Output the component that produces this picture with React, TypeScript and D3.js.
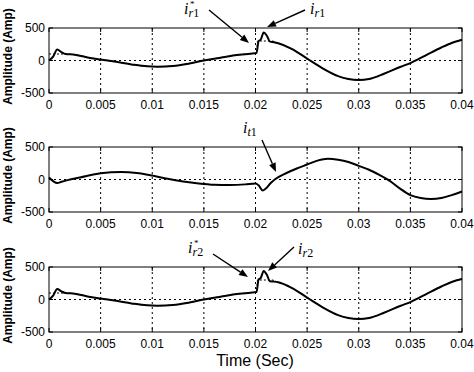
import React from "react";
import * as d3 from "d3";

// axis ticks
const timeTicks = [0, 0.005, 0.01, 0.015, 0.02, 0.025, 0.03, 0.035, 0.04];
const timeLabels = ["0", "0.005", "0.01", "0.015", "0.02", "0.025", "0.03", "0.035", "0.04"];
const ampTicks = [500, 0, -500];

// rotor current 1 (measured) and its reference
const r1Time = [0, 0.0004, 0.0008, 0.0012, 0.0016, 0.0025, 0.004, 0.005, 0.0065, 0.008, 0.0095, 0.0105, 0.012, 0.0135, 0.015, 0.0165, 0.018, 0.0195, 0.0201, 0.0203, 0.0205, 0.0208, 0.0211, 0.0214, 0.0218, 0.0222, 0.0235, 0.025, 0.0265, 0.028, 0.029, 0.03, 0.031, 0.0325, 0.034, 0.035, 0.0365, 0.038, 0.039, 0.04];
const iR1 = [0, 60, 170, 130, 100, 90, 40, 15, -20, -60, -90, -95, -85, -50, 0, 40, 80, 105, 115, 300, 320, 430, 380, 290, 280, 265, 180, 30, -120, -240, -285, -300, -285, -200, -100, -40, 80, 200, 270, 320];
const r1RefTime = [0, 0.0014, 0.0025, 0.004, 0.005, 0.0065, 0.008, 0.0095, 0.0105, 0.012, 0.0135, 0.015, 0.0165, 0.018, 0.0195, 0.0201, 0.0202, 0.0216, 0.0222, 0.0235, 0.025, 0.0265, 0.028, 0.029, 0.03, 0.031, 0.0325, 0.034, 0.035, 0.0365, 0.038, 0.039, 0.04];
const iR1Ref = [100, 100, 90, 40, 15, -20, -60, -90, -95, -85, -50, 0, 40, 80, 105, 115, 300, 300, 265, 180, 30, -120, -240, -285, -300, -285, -200, -100, -40, 80, 200, 270, 320];

// inverter current 1
const t1Time = [0, 0.0004, 0.0008, 0.0012, 0.0018, 0.003, 0.005, 0.007, 0.0085, 0.01, 0.0115, 0.013, 0.0145, 0.016, 0.0175, 0.019, 0.02, 0.0203, 0.0207, 0.021, 0.0215, 0.022, 0.023, 0.024, 0.025, 0.026, 0.027, 0.028, 0.029, 0.03, 0.031, 0.032, 0.033, 0.034, 0.035, 0.036, 0.037, 0.038, 0.039, 0.04];
const iT1 = [30, -25, -55, -35, -10, 30, 95, 115, 100, 60, 10, -30, -60, -80, -85, -75, -60, -90, -170, -140, -50, 15, 100, 170, 230, 290, 320, 305, 270, 210, 150, 70, -20, -140, -240, -285, -300, -285, -240, -185];

// rotor current 2 (measured) and its reference
const r2Time = r1Time;
const iR2 = [0, 60, 160, 125, 100, 90, 40, 15, -20, -60, -90, -95, -85, -50, 0, 40, 80, 105, 115, 310, 330, 440, 380, 280, 275, 265, 180, 30, -120, -240, -285, -300, -285, -200, -100, -40, 80, 200, 270, 315];
const r2RefTime = r1RefTime;
const iR2Ref = iR1Ref;

const W = 474;
const H = 372;
const left = 49;
const right = 462;
const panelH = 65;
const sans = "'Liberation Sans', Arial, sans-serif";

const x = d3.scaleLinear().domain([0, 0.04]).range([left, right]);

type Series = { t: number[]; v: number[]; dashed?: boolean };

function Arrow({ x1, y1, x2, y2 }: { x1: number; y1: number; x2: number; y2: number }) {
  const ang = Math.atan2(y2 - y1, x2 - x1);
  const L = 9;
  const w = 3.5;
  const bx = x2 - L * Math.cos(ang);
  const by = y2 - L * Math.sin(ang);
  const px = -Math.sin(ang) * w;
  const py = Math.cos(ang) * w;
  return (
    <g>
      <line x1={x1} y1={y1} x2={bx} y2={by} stroke="#000" strokeWidth={1.4} />
      <path d={`M${x2},${y2}L${bx + px},${by + py}L${bx - px},${by - py}Z`} fill="#000" />
    </g>
  );
}

// italic current symbol with subscript (and optional star for the reference)
function Label({ x0, y0, sub, star }: { x0: number; y0: number; sub: string; star?: boolean }) {
  return (
    <g fontFamily="'Liberation Serif', serif" fill="#000">
      <text x={x0} y={y0} fontStyle="italic" fontSize={16}>
        i
        <tspan dy={3} fontSize={12}>{sub[0]}</tspan>
        <tspan fontStyle="normal" fontSize={12}>{sub[1]}</tspan>
      </text>
      {star && (
        <text x={x0 + 6} y={y0 - 7} fontSize={9}>
          *
        </text>
      )}
    </g>
  );
}

function Panel({ top, series }: { top: number; series: Series[] }) {
  const y = d3.scaleLinear().domain([-500, 500]).range([top + panelH, top]);
  const mk = (s: Series) =>
    d3
      .line<number>()
      .x((_, i) => x(s.t[i]))
      .y((d) => y(d))
      .curve(d3.curveMonotoneX)(s.v) || "";
  return (
    <g>
      <rect x={left} y={top} width={right - left} height={panelH} fill="#fff" />
      {timeTicks.slice(1, -1).map((t) => (
        <line key={t} x1={x(t)} x2={x(t)} y1={top} y2={top + panelH} stroke="#000" strokeWidth={1} strokeDasharray="2,3" />
      ))}
      <line x1={left} x2={right} y1={y(0)} y2={y(0)} stroke="#000" strokeWidth={1} strokeDasharray="2,3" />
      {timeTicks.map((t) => (
        <g key={"tk" + t}>
          <line x1={x(t)} x2={x(t)} y1={top + panelH} y2={top + panelH - 4} stroke="#000" />
          <line x1={x(t)} x2={x(t)} y1={top} y2={top + 4} stroke="#000" />
        </g>
      ))}
      {ampTicks.map((a) => (
        <g key={"ay" + a}>
          <line x1={left} x2={left + 4} y1={y(a)} y2={y(a)} stroke="#000" />
          <line x1={right} x2={right - 4} y1={y(a)} y2={y(a)} stroke="#000" />
          <text x={left - 4} y={y(a) + 4} textAnchor="end" fontFamily={sans} fontSize={12} fill="#000">
            {a}
          </text>
        </g>
      ))}
      {timeTicks.map((t, i) => (
        <text key={"xl" + t} x={x(t)} y={top + panelH + 16} textAnchor="middle" fontFamily={sans} fontSize={12} fill="#000">
          {timeLabels[i]}
        </text>
      ))}
      {series.map((s, i) => (
        <path
          key={i}
          d={mk(s)}
          fill="none"
          stroke="#000"
          strokeWidth={s.dashed ? 1 : 2}
          strokeDasharray={s.dashed ? "2,2" : undefined}
          strokeLinejoin="round"
        />
      ))}
      <rect x={left} y={top} width={right - left} height={panelH} fill="none" stroke="#000" strokeWidth={1} />
      <text
        transform={`translate(12,${top + panelH / 2 - 4}) rotate(-90)`}
        textAnchor="middle"
        fontFamily={sans}
        fontWeight="bold"
        fontSize={12}
        fill="#000"
      >
        Amplitude (Amp)
      </text>
    </g>
  );
}

export default function App() {
  return (
    <svg width={W} height={H} style={{ position: "absolute", left: 0, top: 0, background: "#fff" }}>
      <rect width={W} height={H} fill="#fff" />
      <Panel
        top={28}
        series={[
          { t: r1RefTime, v: iR1Ref, dashed: true },
          { t: r1Time, v: iR1 },
        ]}
      />
      <Panel top={147} series={[{ t: t1Time, v: iT1 }]} />
      <Panel
        top={267}
        series={[
          { t: r2RefTime, v: iR2Ref, dashed: true },
          { t: r2Time, v: iR2 },
        ]}
      />
      <text x={255} y={366} textAnchor="middle" fontFamily={sans} fontSize={16} fill="#000">
        Time (Sec)
      </text>

      <Label x0={184} y0={14} sub="r1" star />
      <Arrow x1={209} y1={10} x2={249} y2={43} />
      <Label x0={310} y0={14} sub="r1" />
      <Arrow x1={305} y1={10} x2={267} y2={27} />

      <Label x0={243} y0={133} sub="t1" />
      <Arrow x1={262} y1={140} x2={276} y2={172} />

      <Label x0={188} y0={253} sub="r2" star />
      <Arrow x1={213} y1={254} x2={248} y2={277} />
      <Label x0={298} y0={254} sub="r2" />
      <Arrow x1={294} y1={247} x2={268} y2={271} />
    </svg>
  );
}
